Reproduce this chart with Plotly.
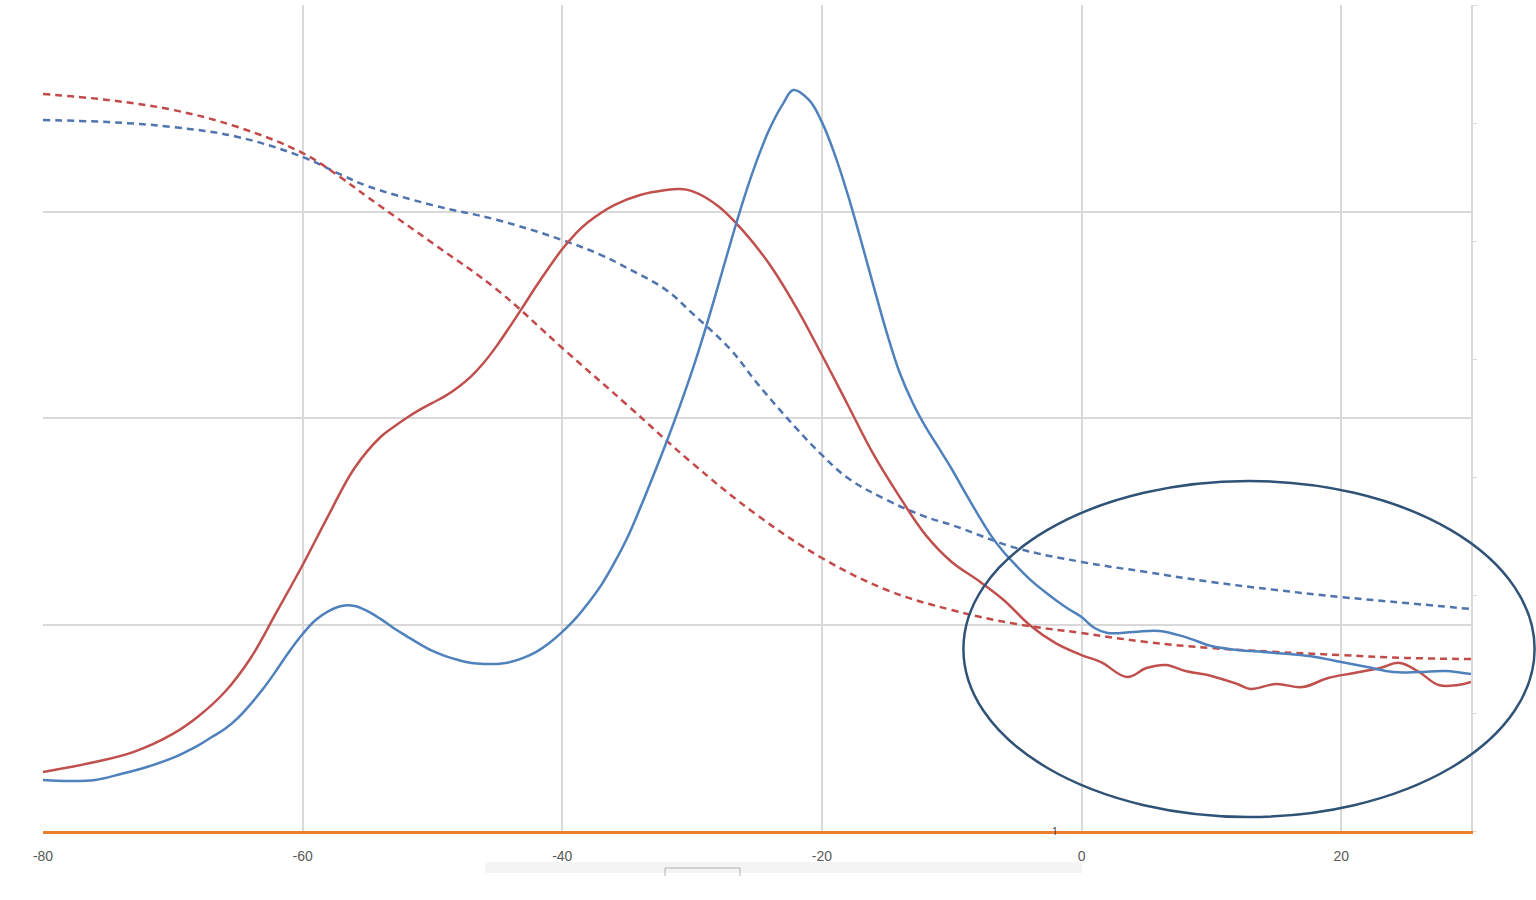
import plotly.graph_objects as go

# ---- data ----
x_ticks = [-80, -60, -40, -20, 0, 20]
tick_labels = ["-80", "-60", "-40", "-20", "0", "20"]

blue_x = [-80, -78, -76, -74, -72, -70, -69, -68, -67, -66, -65, -64, -63, -62, -61, -60, -59, -58,
          -57, -56, -55, -54, -53, -52, -51, -50, -49, -48, -47, -46, -45, -44, -43, -42, -41, -40,
          -39, -38, -37, -36, -35, -34, -33, -32, -31, -30, -29, -28, -27, -26, -25, -24, -23, -22.2,
          -21, -20, -19, -18, -17, -16, -15, -14, -13, -12, -11, -10, -9, -8, -7, -6, -5, -4, -3, -2,
          -1, 0, 1, 2, 4, 6, 8, 10, 12, 14, 16, 18, 20, 22, 24, 26, 28, 30]
blue_y = [0.247, 0.242, 0.247, 0.276, 0.310, 0.354, 0.383, 0.416, 0.455, 0.494, 0.547, 0.615, 0.692,
          0.780, 0.872, 0.954, 1.022, 1.065, 1.090, 1.090, 1.065, 1.027, 0.983, 0.944, 0.906, 0.872,
          0.847, 0.828, 0.814, 0.809, 0.809, 0.818, 0.838, 0.867, 0.910, 0.964, 1.027, 1.104, 1.191,
          1.298, 1.419, 1.564, 1.719, 1.879, 2.048, 2.228, 2.426, 2.639, 2.857, 3.065, 3.249, 3.404,
          3.521, 3.588, 3.540, 3.433, 3.274, 3.080, 2.862, 2.634, 2.412, 2.218, 2.073, 1.956, 1.855,
          1.753, 1.642, 1.535, 1.433, 1.351, 1.283, 1.220, 1.167, 1.119, 1.075, 1.036, 0.983, 0.959,
          0.964, 0.969, 0.939, 0.896, 0.877, 0.867, 0.857, 0.843, 0.818, 0.794, 0.770, 0.770, 0.775,
          0.760]

red_x = [-80, -76, -73, -70, -68, -66, -64, -62, -60, -58, -56, -54, -53, -52, -51, -50, -49, -48, -47,
         -46, -45, -44, -43, -42, -41, -40, -39, -38, -36, -34, -32, -31, -30, -28, -26, -24, -22, -20,
         -18, -16, -14, -12, -10, -8, -6, -4, -2, 0, 1.5, 3.5, 5, 6.5, 8, 10, 12, 13, 15, 17, 19, 21,
         23, 24.5, 26, 27.5, 29, 30]
red_y = [0.286, 0.334, 0.383, 0.470, 0.557, 0.673, 0.838, 1.061, 1.288, 1.530, 1.758, 1.908, 1.956,
         2.000, 2.039, 2.073, 2.107, 2.150, 2.203, 2.271, 2.354, 2.446, 2.542, 2.639, 2.731, 2.818,
         2.891, 2.949, 3.031, 3.080, 3.104, 3.109, 3.099, 3.027, 2.901, 2.741, 2.538, 2.305, 2.063,
         1.821, 1.617, 1.433, 1.303, 1.215, 1.119, 0.998, 0.910, 0.852, 0.818, 0.746, 0.789, 0.804,
         0.775, 0.751, 0.712, 0.688, 0.712, 0.697, 0.741, 0.765, 0.789, 0.814, 0.770, 0.707, 0.707,
         0.722]

blue_dash_x = [-80, -75, -70, -65, -60, -57, -55, -50, -45, -40, -37, -35, -32, -30, -27, -25, -22,
               -20, -18, -15, -12, -10, -5, 0, 5, 10, 15, 20, 25, 30]
blue_dash_y = [3.443, 3.433, 3.409, 3.361, 3.264, 3.177, 3.123, 3.031, 2.959, 2.862, 2.789, 2.726,
               2.620, 2.508, 2.329, 2.169, 1.952, 1.821, 1.709, 1.603, 1.521, 1.482, 1.370, 1.303,
               1.254, 1.206, 1.167, 1.133, 1.104, 1.075]

red_dash_x = [-80, -75, -70, -65, -60, -57, -55, -50, -45, -40, -35, -30, -25, -20, -15, -10, -5, 0,
              5, 10, 15, 20, 25, 30]
red_dash_y = [3.569, 3.540, 3.492, 3.409, 3.283, 3.162, 3.070, 2.847, 2.620, 2.339, 2.063, 1.782,
              1.530, 1.322, 1.167, 1.070, 1.002, 0.959, 0.915, 0.886, 0.867, 0.852, 0.838, 0.833]

# highlighted region (data units)
ellipse_x = [-9.1, 34.9]
ellipse_y = [0.068, 1.695]

X_RANGE = [-80, 30]
Y_RANGE = [0, 4]

BLUE = "#4F81BD"
RED = "#C0504D"
BLUE_D = "#4F74AE"
RED_D = "#C24A4A"
GRID = "#D9D9D9"
SMOOTH = 1.1

fig = go.Figure()
fig.add_trace(go.Scatter(x=blue_dash_x, y=blue_dash_y, mode="lines",
                         line=dict(color=BLUE_D, width=2.5, dash="7px,5px", shape="spline",
                                   smoothing=SMOOTH), hoverinfo="skip"))
fig.add_trace(go.Scatter(x=red_dash_x, y=red_dash_y, mode="lines",
                         line=dict(color=RED_D, width=2.5, dash="7px,5px", shape="spline",
                                   smoothing=SMOOTH), hoverinfo="skip"))
fig.add_trace(go.Scatter(x=red_x, y=red_y, mode="lines",
                         line=dict(color=RED, width=2.5, shape="spline", smoothing=SMOOTH),
                         hoverinfo="skip"))
fig.add_trace(go.Scatter(x=blue_x, y=blue_y, mode="lines",
                         line=dict(color=BLUE, width=2.5, shape="spline", smoothing=SMOOTH),
                         hoverinfo="skip"))


def px(v):
    return (v - X_RANGE[0]) / (X_RANGE[1] - X_RANGE[0])


def py(v):
    return (v - Y_RANGE[0]) / (Y_RANGE[1] - Y_RANGE[0])


shapes = [
    dict(type="circle", xref="paper", yref="paper",
         x0=px(ellipse_x[0]), x1=px(ellipse_x[1]), y0=py(ellipse_y[0]), y1=py(ellipse_y[1]),
         line=dict(color="#2F5277", width=2.5), layer="above"),
    # faint scrollbar-like strip under the axis
    dict(type="rect", xref="paper", yref="paper", x0=0.3095, x1=0.7276, y0=-0.0508, y1=-0.0375,
         fillcolor="#F4F4F4", line=dict(width=0), layer="below"),
    dict(type="path", xref="paper", yref="paper",
         path="M 0.4356 -0.0545 L 0.4356 -0.0448 L 0.4881 -0.0448 L 0.4881 -0.0545",
         line=dict(color="#B0B0B0", width=1)),
]

fig.update_layout(
    width=1536, height=900,
    margin=dict(l=43, r=65, t=5, b=69),
    paper_bgcolor="white", plot_bgcolor="white",
    showlegend=False,
    shapes=shapes,
    xaxis=dict(range=X_RANGE, tickvals=x_ticks, ticktext=tick_labels,
               showgrid=True, gridcolor=GRID, gridwidth=1.5, zeroline=False,
               showline=True, linecolor="#ED7D31", linewidth=3,
               ticks="", ticklabelstandoff=10,
               tickfont=dict(family="Liberation Sans Narrow, Liberation Sans, Arial", size=14,
                             color="#595959")),
    yaxis=dict(range=Y_RANGE, dtick=1, showgrid=True, gridcolor=GRID, gridwidth=1.5,
               zeroline=False, showticklabels=False, ticks="", showline=False),
    yaxis2=dict(range=[0, 7], dtick=1, overlaying="y", side="right", showgrid=False,
                zeroline=False, showticklabels=False, ticks="outside", ticklen=4,
                tickcolor=GRID, showline=True, linecolor=GRID, linewidth=1.5),
    annotations=[dict(x=0.7122, y=0.0, xref="paper", yref="paper", text="1", showarrow=False,
                      font=dict(size=10, color="#303030"), yanchor="middle")],
)
fig.add_trace(go.Scatter(x=[None], y=[None], yaxis="y2", showlegend=False, hoverinfo="skip"))

fig.write_html("out.html", config={"displayModeBar": False},
               post_script="document.body.style.margin='0px';document.body.style.overflow='hidden';")
